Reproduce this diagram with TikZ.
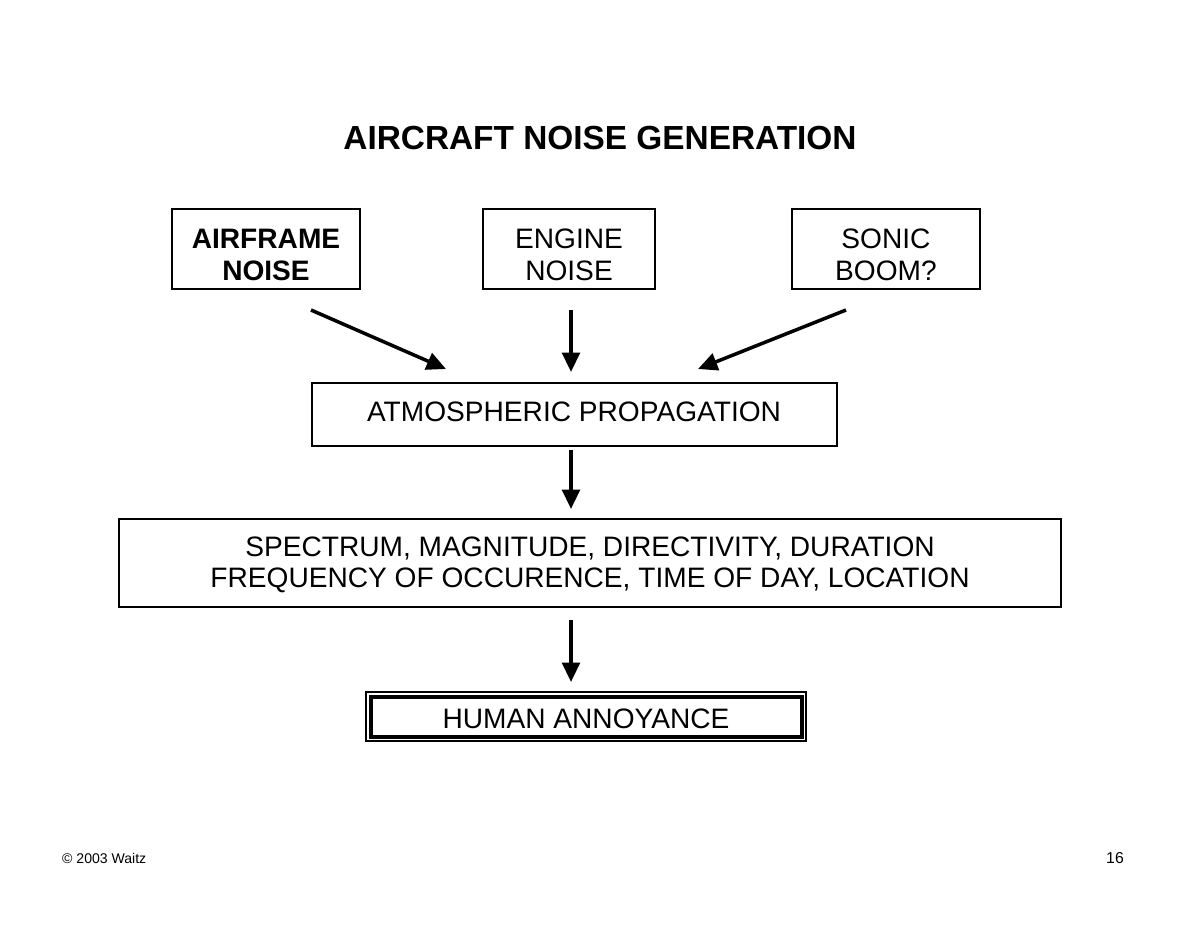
\documentclass[tikz,border=0pt]{standalone}
\usepackage{fontspec}
\setmainfont{Liberation Sans}
\usetikzlibrary{arrows.meta}
\begin{document}
\begin{tikzpicture}[x=0.02cm,y=-0.02cm,
  bx/.style={draw,line width=1.6pt,inner sep=0pt},
  tx/.style={font=\fontsize{16}{18}\selectfont,align=center},
  arr/.style={line width=2pt,-{Triangle[length=11pt,width=10pt]}}]
\useasboundingbox (0,0) rectangle (1200,927);
\node[font=\bfseries\fontsize{19}{22}\selectfont] (title) at (600,138) {AIRCRAFT NOISE GENERATION};
\draw[line width=1.6pt] (172,209) rectangle (360,289);
\node[tx,font=\bfseries\fontsize{16}{18}\selectfont] (air) at (266,255) {AIRFRAME\\NOISE};
\draw[line width=1.6pt] (483,209) rectangle (655,289);
\node[tx] (eng) at (569,255) {ENGINE\\NOISE};
\draw[line width=1.6pt] (792,209) rectangle (980,289);
\node[tx] (son) at (886,255) {SONIC\\BOOM?};
\draw[line width=1.6pt] (312,383) rectangle (837,446);
\node[tx] (atm) at (574,412) {ATMOSPHERIC PROPAGATION};
\draw[line width=1.6pt] (119,519) rectangle (1061,607);
\node[tx] (spec) at (590,565) {SPECTRUM, MAGNITUDE, DIRECTIVITY, DURATION\\FREQUENCY OF OCCURENCE, TIME OF DAY, LOCATION};
\draw[line width=0.6pt] (366,692) rectangle (806,741);
\draw[line width=2.2pt] (371,697) rectangle (802,737);
\node[tx] (hum) at (586,719) {HUMAN ANNOYANCE};
\coordinate (a1) at (311,310); \coordinate (a2) at (446,369);
\coordinate (b1) at (571,310); \coordinate (b2) at (571,372);
\coordinate (c1) at (846,310); \coordinate (c2) at (698,369);
\coordinate (d1) at (571,450); \coordinate (d2) at (571,509);
\coordinate (e1) at (571,620); \coordinate (e2) at (571,682);
\draw[arr] (a1) -- (a2);
\draw[arr] (b1) -- (b2);
\draw[arr] (c1) -- (c2);
\draw[arr] (d1) -- (d2);
\draw[arr] (e1) -- (e2);
\node[font=\fontsize{8}{9}\selectfont,anchor=west] (copy) at (56,858) {© 2003 Waitz};
\node[font=\fontsize{9}{10}\selectfont,anchor=east] (pg) at (1130,858) {16};
\end{tikzpicture}
\end{document}
